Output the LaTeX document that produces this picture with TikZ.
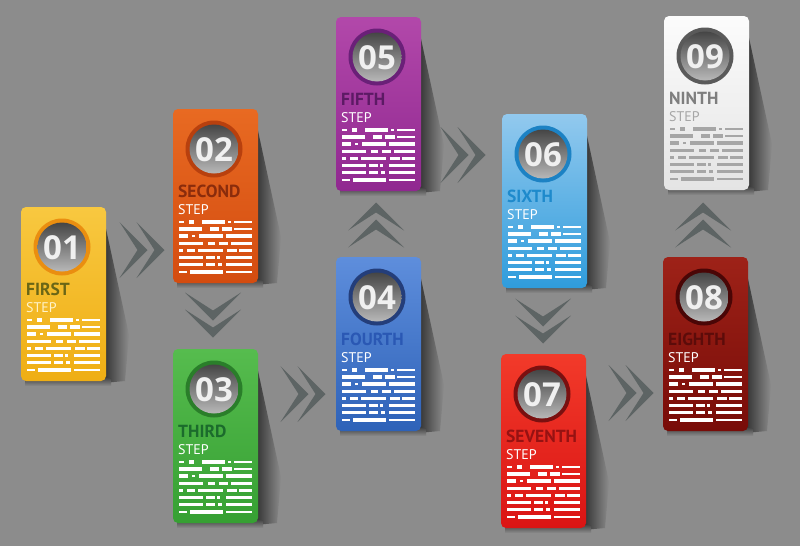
\documentclass[tikz,border=0pt]{standalone}
\usepackage{fontspec}
\setmainfont{PT Sans}
\newfontfamily\numfont{Open Sans}
\definecolor{bg}{HTML}{8C8C8C}
\definecolor{chev}{HTML}{5D6464}
\definecolor{numc}{HTML}{F0F0F0}
\definecolor{shad}{HTML}{303030}
\definecolor{cirtop}{HTML}{454545}
\definecolor{cirbot}{HTML}{B8B8B8}
% card colours: top, mid, bottom, ring, heading, step, bars
\definecolor{ctop1}{HTML}{F8C840}\definecolor{cmid1}{HTML}{F3B622}\definecolor{cbot1}{HTML}{EFAE14}\definecolor{cring1}{HTML}{EA8E10}\definecolor{chead1}{HTML}{6A6616}\definecolor{cstep1}{HTML}{FFF3C8}\definecolor{cbar1}{HTML}{FFFFFF}
\definecolor{ctop2}{HTML}{E86A22}\definecolor{cmid2}{HTML}{DE5618}\definecolor{cbot2}{HTML}{D44C10}\definecolor{cring2}{HTML}{B8400E}\definecolor{chead2}{HTML}{8A2C0C}\definecolor{cstep2}{HTML}{FFFFFF}\definecolor{cbar2}{HTML}{FFFFFF}
\definecolor{ctop3}{HTML}{56BC4E}\definecolor{cmid3}{HTML}{3DAA3A}\definecolor{cbot3}{HTML}{36A033}\definecolor{cring3}{HTML}{2A7E2A}\definecolor{chead3}{HTML}{1B6B2C}\definecolor{cstep3}{HTML}{FFFFFF}\definecolor{cbar3}{HTML}{FFFFFF}
\definecolor{ctop4}{HTML}{5E8EDC}\definecolor{cmid4}{HTML}{3A6EC6}\definecolor{cbot4}{HTML}{2E62B8}\definecolor{cring4}{HTML}{243E7A}\definecolor{chead4}{HTML}{2A58B4}\definecolor{cstep4}{HTML}{FFFFFF}\definecolor{cbar4}{HTML}{FFFFFF}
\definecolor{ctop5}{HTML}{B248AA}\definecolor{cmid5}{HTML}{A0329C}\definecolor{cbot5}{HTML}{902890}\definecolor{cring5}{HTML}{6A2078}\definecolor{chead5}{HTML}{5C1A64}\definecolor{cstep5}{HTML}{FFFFFF}\definecolor{cbar5}{HTML}{FFFFFF}
\definecolor{ctop6}{HTML}{92C9EE}\definecolor{cmid6}{HTML}{3CA6E2}\definecolor{cbot6}{HTML}{2F9CDC}\definecolor{cring6}{HTML}{1C82C4}\definecolor{chead6}{HTML}{1E8ACC}\definecolor{cstep6}{HTML}{FFFFFF}\definecolor{cbar6}{HTML}{FFFFFF}
\definecolor{ctop7}{HTML}{F23A2A}\definecolor{cmid7}{HTML}{E6201C}\definecolor{cbot7}{HTML}{DA1414}\definecolor{cring7}{HTML}{7A1010}\definecolor{chead7}{HTML}{961212}\definecolor{cstep7}{HTML}{FFFFFF}\definecolor{cbar7}{HTML}{FFFFFF}
\definecolor{ctop8}{HTML}{9E2218}\definecolor{cmid8}{HTML}{8A140E}\definecolor{cbot8}{HTML}{780C08}\definecolor{cring8}{HTML}{4A0606}\definecolor{chead8}{HTML}{5C0C0A}\definecolor{cstep8}{HTML}{FFFFFF}\definecolor{cbar8}{HTML}{FFFFFF}
\definecolor{ctop9}{HTML}{FCFCFC}\definecolor{cmid9}{HTML}{F2F2F2}\definecolor{cbot9}{HTML}{E4E4E4}\definecolor{cring9}{HTML}{5A5A5A}\definecolor{chead9}{HTML}{7E7E7E}\definecolor{cstep9}{HTML}{A6A6A6}\definecolor{cbar9}{HTML}{A6A6A6}
\newcommand\myBarRows{%
0/{0/5/2.4,10/15/3.6,23/46/3.6,49/52/2.4,55/73/2.4},%
1/{0/23/3.6,31/40/3.6,43/53/3.6,55/73/2.4},%
2/{0/9/3.6,13/16/2.4,20/44/3.6,47/73/3.6},%
3/{0/24/3.6,29/36/2.4,40/49/3.6,52/73/3.6},%
4/{0/4/2.4,8/16/3.6,19/44/3.6,48/58/3.6,60/73/2.4},%
5/{0/24/3.6,27/36/3.6,38/41/2.4,47/73/3.6},%
6/{0/24/3.6,27/36/3.6,39/43/2.4,47/73/3.6},%
7/{0/8/2.4,11/44/3.6,47/73/2.4}}
\tikzset{
  x=1pt, y=-1pt,
  card/.style={rounded corners=5pt, minimum width=85pt, minimum height=174pt,
    anchor=north west, inner sep=0pt, outer sep=0pt},
  ringc/.style={circle, minimum size=57pt, inner sep=0pt},
  numtext/.style={font=\numfont\bfseries\fontsize{33}{33}\selectfont, text=numc, inner sep=0pt},
  headtext/.style={anchor=base west, inner sep=0pt, font=\bfseries\fontsize{17.5}{17.5}\selectfont},
  steptext/.style={anchor=base west, inner sep=0pt, font=\fontsize{14}{14}\selectfont},
  dchev/.pic={
    \fill[chev] (-22.5,-28) -- (5.5,0) -- (-22.5,28) -- (-4.5,0) -- cycle;
    \fill[chev] (-5.5,-28) -- (22.5,0) -- (-5.5,28) -- (12.5,0) -- cycle;
  }
}
\begin{document}
\begin{tikzpicture}
\fill[bg] (0,0) rectangle (800,546);
\useasboundingbox (0,0) rectangle (800,546);

\foreach \n/\L/\T/\word in {1/21/207/FIRST, 2/173/109/SECOND, 3/173/349/THIRD,
  4/336/257/FOURTH, 5/336/17/FIFTH, 6/502/114/SIXTH, 7/501/354/SEVENTH,
  8/663/257/EIGHTH, 9/664/16/NINTH}{
  % shadow to the right and below
  \shade[left color=shad, right color=bg]
    (\L+82,\T+8) -- (\L+108,\T+128) -- (\L+104,\T+174) -- (\L+82,\T+176) -- cycle;
  \shade[top color=shad!75!bg, bottom color=bg]
    (\L+4,\T+171) rectangle (\L+90,\T+179);
  % card
  \node[card, top color=ctop\n, middle color=cmid\n, bottom color=cbot\n]
    (card\n) at (\L,\T) {};
  % number disc
  \node[ringc, fill=cring\n] (ring\n) at (\L+41,\T+40) {};
  \shade[top color=cirtop, bottom color=cirbot] (ring\n.center) circle (24.5);
  \node[numtext] (num\n) at (\L+41,\T+41) {0\n};
  % texts
  \node[headtext, text=chead\n] (head\n) at (\L+5,\T+88) {\word};
  \node[steptext, text=cstep\n] (step\n) at (\L+5,\T+105) {STEP};
  % placeholder text bars
  \foreach \r/\segs in \myBarRows {
    \foreach \a/\b/\h in \segs {
      \fill[cbar\n] (\L+6+\a,\T+113+\r*7.1-\h/2) rectangle (\L+6+\b,\T+113+\r*7.1+\h/2);
    }
  }
}

% chevron pairs between the cards
\pic at (142,250) {dchev};
\pic[rotate=-90] at (213,315) {dchev};
\pic at (303,394) {dchev};
\pic[rotate=90] at (376,225) {dchev};
\pic at (463,155) {dchev};
\pic[rotate=-90] at (543,321) {dchev};
\pic at (631,393) {dchev};
\pic[rotate=90] at (703,225) {dchev};
\end{tikzpicture}
\end{document}
